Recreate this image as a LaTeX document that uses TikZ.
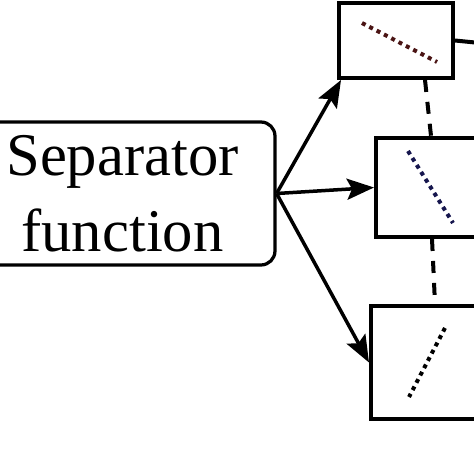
\documentclass[tikz,border=0pt]{standalone}
\usepackage{fontspec}
\setmainfont{Liberation Serif}
\usepackage{tikz}
\usetikzlibrary{positioning,arrows.meta,calc}
\newcommand{\sepArrow}{-{Stealth[length=0.54cm,width=0.42cm,inset=0.1cm]}}
\definecolor{dotred}{HTML}{4A1414}
\definecolor{dotblue}{HTML}{16164E}

\begin{document}
\begin{tikzpicture}[x=0.02cm,y=-0.02cm,
    sepbox/.style={draw,line width=0.065cm,rounded corners=0.28cm,align=center,
        font=\fontsize{34.5pt}{43pt}\selectfont,minimum width=6.1cm,minimum height=2.86cm},
    outbox/.style={draw,line width=0.08cm,inner sep=0pt},
    dotline/.style={line width=0.08cm,dash pattern=on 0.08cm off 0.085cm}]
            \useasboundingbox (0,0) rectangle (474,474);
            \clip (0,0) rectangle (474,474);
            % function box
            \node[sepbox] (sep) at (122.5,193.5) {Separator\\function};
            % outputs
            \node[outbox,minimum width=2.28cm,minimum height=1.5cm] (boxA) at (396,40.5) {};
            \node[outbox,minimum width=2.88cm,minimum height=1.98cm] (boxB) at (448,187.5) {};
            \node[outbox,minimum width=2.98cm,minimum height=2.26cm] (boxC) at (445.5,362.5) {};
            \coordinate (out) at (480,43);
            % arrows
            \draw[line width=0.07cm,\sepArrow] (sep.east) -- ($(boxA.south west)+(4,0)$);
            \draw[line width=0.07cm,\sepArrow] (sep.east) -- (boxB.west);
            \draw[line width=0.07cm,\sepArrow] (sep.east) -- (boxC.west);
            \draw[line width=0.08cm] (boxA.east) -- (out);
            % dashed links
            \draw[line width=0.08cm,dash pattern=on 0.24cm off 0.2cm] ($(boxA.south west)+(88,0)$) -- ($(boxB.north west)+(57,0)$);
            \draw[line width=0.08cm,dash pattern=on 0.24cm off 0.2cm] ($(boxB.south west)+(58,0)$) -- ($(boxC.north west)+(66,0)$);
            % dotted marks
            \draw[dotline,dotred] (362,23) -- (437,62);
            \draw[dotline,dotblue] (408,151) -- (453,223);
            \draw[dotline,black] (445,328) -- (409,397);
        \end{tikzpicture}
\end{document}
